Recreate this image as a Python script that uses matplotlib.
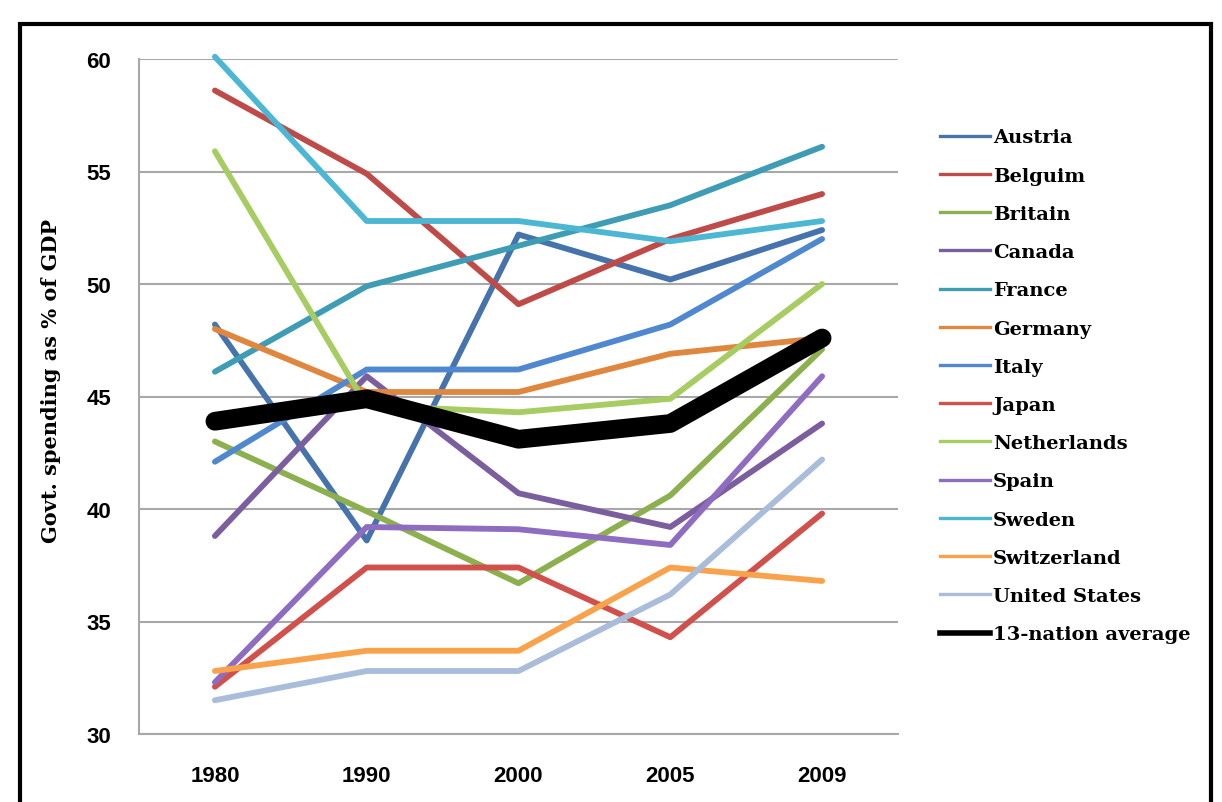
import matplotlib
matplotlib.use("Agg")
import matplotlib.pyplot as plt
from matplotlib.patches import Rectangle
import numpy as np

YEARS = ["1980", "1990", "2000", "2005", "2009"]

AUSTRIA = [48.2, 38.6, 52.2, 50.2, 52.4]
BELGIUM = [58.6, 54.9, 49.1, 52.0, 54.0]
BRITAIN = [43.0, 39.9, 36.7, 40.6, 47.1]
CANADA = [38.8, 45.9, 40.7, 39.2, 43.8]
FRANCE = [46.1, 49.9, 51.7, 53.5, 56.1]
GERMANY = [48.0, 45.2, 45.2, 46.9, 47.6]
ITALY = [42.1, 46.2, 46.2, 48.2, 52.0]
JAPAN = [32.1, 37.4, 37.4, 34.3, 39.8]
NETHERLANDS = [55.9, 44.6, 44.3, 44.9, 50.0]
SPAIN = [32.3, 39.2, 39.1, 38.4, 45.9]
SWEDEN = [60.1, 52.8, 52.8, 51.9, 52.8]
SWITZERLAND = [32.8, 33.7, 33.7, 37.4, 36.8]
UNITED_STATES = [31.5, 32.8, 32.8, 36.2, 42.2]
AVERAGE = [43.9, 44.9, 43.1, 43.8, 47.6]

SERIES = [
    ("Austria", AUSTRIA, "#4673AC"),
    ("Belguim", BELGIUM, "#BE4B48"),
    ("Britain", BRITAIN, "#8DB04E"),
    ("Canada", CANADA, "#7B5E9E"),
    ("France", FRANCE, "#3E9DB4"),
    ("Germany", GERMANY, "#E0873F"),
    ("Italy", ITALY, "#4F88CF"),
    ("Japan", JAPAN, "#D0504C"),
    ("Netherlands", NETHERLANDS, "#A6CC62"),
    ("Spain", SPAIN, "#8E6CC0"),
    ("Sweden", SWEDEN, "#4BB7D3"),
    ("Switzerland", SWITZERLAND, "#F9A24C"),
    ("United States", UNITED_STATES, "#A9BDDB"),
]

SERIF = ["DejaVu Serif"]
SANS = ["Liberation Sans"]

fig = plt.figure(figsize=(12.22, 8.03), dpi=100)
ax = fig.add_axes([139 / 1222, 1 - 735 / 803, (898 - 139) / 1222, (735 - 60) / 803])

x = np.arange(len(YEARS))
for name, values, color in SERIES:
    ax.plot(x, values, color=color, linewidth=4.2, solid_capstyle="round",
            solid_joinstyle="round", label=name, clip_on=False)
ax.plot(x, AVERAGE, color="black", linewidth=13.5, solid_capstyle="round",
        solid_joinstyle="round", label="13-nation average")

ax.set_xlim(-0.5, len(YEARS) - 0.5)
ax.set_ylim(30, 60)
ax.set_yticks(np.arange(30, 61, 5))
ax.set_xticks(x)
ax.set_xticklabels(YEARS)
ax.grid(axis="y", color="#A8A8A8", linewidth=1.5)
ax.set_axisbelow(True)
for side in ["top", "right"]:
    ax.spines[side].set_visible(False)
for side in ["left", "bottom"]:
    ax.spines[side].set_color("#A8A8A8")
    ax.spines[side].set_linewidth(1.5)
ax.tick_params(axis="x", length=0, labelsize=16, pad=22)
ax.tick_params(axis="y", length=0, labelsize=16, pad=20)
for lab in ax.get_xticklabels() + ax.get_yticklabels():
    lab.set_fontfamily(SANS)
    lab.set_fontweight("bold")

ax.set_ylabel("Govt. spending as % of GDP", fontsize=15, fontweight="bold", family=SERIF)
ax.yaxis.set_label_coords((61 - 139) / 759, (735 - 381) / 675)

# legend with thin handles
leg_handles = [plt.Line2D([], [], color=c, linewidth=2.4) for _, _, c in SERIES]
leg_handles.append(plt.Line2D([], [], color="black", linewidth=4))
leg_labels = [n for n, _, _ in SERIES] + ["13-nation average"]
fig.legend(leg_handles, leg_labels, loc="upper left", bbox_to_anchor=(922 / 1222, 1 - 112 / 803),
           frameon=False, handlelength=2.6, handletextpad=0.15, labelspacing=1.04,
           prop={"family": SERIF, "weight": "bold", "size": 14})

# outer frame
fig.patches.append(Rectangle((20 / 1222, -0.05), (1211 - 20) / 1222, 1.05 - 25 / 803,
                             transform=fig.transFigure, fill=False, edgecolor="black",
                             linewidth=3))

fig.savefig("out.png", dpi=100)
